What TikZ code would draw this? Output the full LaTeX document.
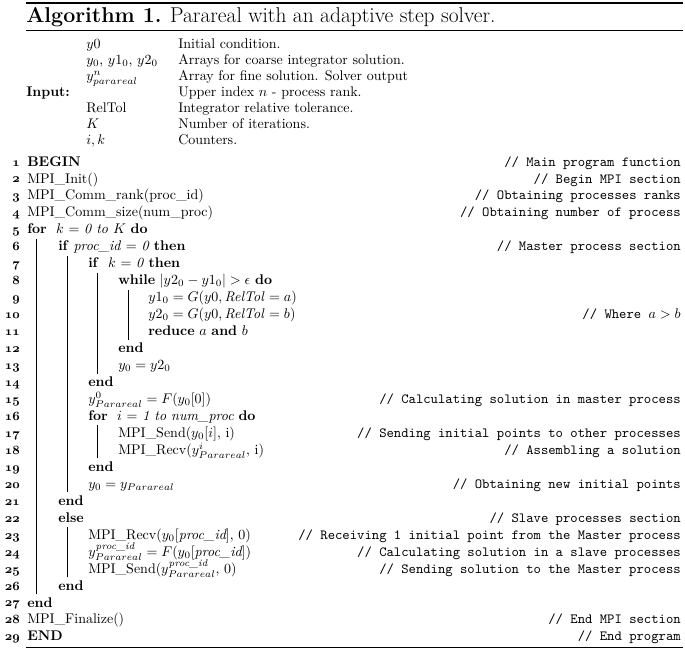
\documentclass[tikz,border=0pt]{standalone}
\usepackage{amsmath}
\newcommand{\lnum}[1]{{\fontencoding{OML}\fontfamily{cmm}\fontseries{b}\fontshape{it}\selectfont #1}}

\begin{document}
\begin{tikzpicture}[x=0.714pt,y=-0.714pt,
    code/.style={anchor=base west,inner sep=0pt},
    cmt/.style={anchor=base east,inner sep=0pt,font=\ttfamily},
    lnr/.style={anchor=base east,inner sep=0pt,font=\small},
    vbar/.style={line width=0.5pt}]
  \useasboundingbox (0,0) rectangle (685,650);

    \draw[line width=0.8pt] (26,3) -- (683,3);
    \node[code] (title) at (26,22) {\fontsize{15.3}{18}\selectfont\textbf{Algorithm 1.} Parareal with an adaptive step solver.};
    \draw[line width=0.4pt] (26,30) -- (683,30);

    % input block
    \node[code] (inlab) at (26,96) {\textbf{Input:}};
    \node[code] (in1) at (86,48) {$y0$};
    \node[code] (in2) at (86,64) {$y_0$, $y1_0$, $y2_0$};
    \node[code] (in3) at (86,80.5) {$y^n_{parareal}$};
    \node[code] (in4) at (86,112) {RelTol};
    \node[code] (in5) at (86,128) {$K$};
    \node[code] (in6) at (86,144) {$i, k$};
    \node[code] (d1) at (178,48) {Initial condition.};
    \node[code] (d2) at (178,64) {Arrays for coarse integrator solution.};
    \node[code] (d3) at (178,80.5) {Array for fine solution. Solver output};
    \node[code] (d4) at (178,96) {Upper index $n$ - process rank.};
    \node[code] (d5) at (178,112) {Integrator relative tolerance.};
    \node[code] (d6) at (178,128) {Number of iterations.};
    \node[code] (d7) at (178,144) {Counters.};

    \foreach \k in {1,...,29}
      \node[lnr] (n\k) at (20,{166+16.96*(\k-1)}) {\lnum{\k}};

    % code lines
    \node[code] (l1) at (27,166) {\textbf{BEGIN}};
    \node[code] (l2) at (27,183) {MPI\_Init()};
    \node[code] (l3) at (27,199.9) {MPI\_Comm\_rank(proc\_id)};
    \node[code] (l4) at (27,216.9) {MPI\_Comm\_size(num\_proc)};
    \node[code] (l5) at (27,233.8) {\textbf{for}~~$k$ $=$ \emph{0 to $K$} \textbf{do}};
    \node[code] (l6) at (58,250.8) {\textbf{if} \emph{proc\_id} $=$ \emph{0} \textbf{then}};
    \node[code] (l7) at (88,267.8) {\textbf{if}~~$k$ $=$ \emph{0} \textbf{then}};
    \node[code] (l8) at (118,284.7) {\textbf{while} $|y2_0-y1_0|>\epsilon$ \textbf{do}};
    \node[code] (l9) at (148,301.7) {$y1_0=G(y0,\mathit{RelTol}=a)$};
    \node[code] (l10) at (148,318.6) {$y2_0=G(y0,\mathit{RelTol}=b)$};
    \node[code] (l11) at (148,335.6) {\textbf{reduce} $a$ \textbf{and} $b$};
    \node[code] (l12) at (118,352.6) {\textbf{end}};
    \node[code] (l13) at (118,369.5) {$y_0=y2_0$};
    \node[code] (l14) at (88,386.5) {\textbf{end}};
    \node[code] (l15) at (88,403.4) {$y^0_{Parareal}=F(y_0[0])$};
    \node[code] (l16) at (88,420.4) {\textbf{for}~~$i$ $=$ \emph{1 to num\_proc} \textbf{do}};
    \node[code] (l17) at (118,437.4) {MPI\_Send($y_0[i]$, i)};
    \node[code] (l18) at (118,454.3) {MPI\_Recv($y^i_{Parareal}$, i)};
    \node[code] (l19) at (88,471.3) {\textbf{end}};
    \node[code] (l20) at (88,488.2) {$y_0=y_{Parareal}$};
    \node[code] (l21) at (58,505.2) {\textbf{end}};
    \node[code] (l22) at (58,522.2) {\textbf{else}};
    \node[code] (l23) at (88,539.1) {MPI\_Recv($y_0[\textit{proc\_id}]$, 0)};
    \node[code] (l24) at (88,556.1) {$y^{\textit{proc\_id}}_{Parareal}=F(y_0[\textit{proc\_id}])$};
    \node[code] (l25) at (88,573) {MPI\_Send($y^{\textit{proc\_id}}_{Parareal}$, 0)};
    \node[code] (l26) at (58,590) {\textbf{end}};
    \node[code] (l27) at (27,607) {\textbf{end}};
    \node[code] (l28) at (27,623.9) {MPI\_Finalize()};
    \node[code] (l29) at (27,640.9) {\textbf{END}};

    % comments
    \node[cmt] (c1) at (681,166) {// Main program function};
    \node[cmt] (c2) at (681,183) {// Begin MPI section};
    \node[cmt] (c3) at (681,199.9) {// Obtaining processes ranks};
    \node[cmt] (c4) at (681,216.9) {// Obtaining number of process};
    \node[cmt] (c6) at (681,250.8) {// Master process section};
    \node[cmt] (c10) at (681,318.6) {// Where $a>b$};
    \node[cmt] (c15) at (681,403.4) {// Calculating solution in master process};
    \node[cmt] (c17) at (681,437.4) {// Sending initial points to other processes};
    \node[cmt] (c18) at (681,454.3) {// Assembling a solution};
    \node[cmt] (c20) at (681,488.2) {// Obtaining new initial points};
    \node[cmt] (c22) at (681,522.2) {// Slave processes section};
    \node[cmt] (c23) at (681,539.1) {// Receiving 1 initial point from the Master process};
    \node[cmt] (c24) at (681,556.1) {// Calculating solution in a slave processes};
    \node[cmt] (c25) at (681,573) {// Sending solution to the Master process};
    \node[cmt] (c28) at (681,623.9) {// End MPI section};
    \node[cmt] (c29) at (681,640.9) {// End program};

    % block bars
    \draw[vbar] (36,239) -- (36,594);
    \draw[vbar] (67,256) -- (67,492);
    \draw[vbar] (67,527) -- (67,577);
    \draw[vbar] (97,273) -- (97,374);
    \draw[vbar] (128,290) -- (128,340);
    \draw[vbar] (97,425) -- (97,458);

    \draw[line width=0.4pt] (26,647) -- (683,647);

\end{tikzpicture}
\end{document}
